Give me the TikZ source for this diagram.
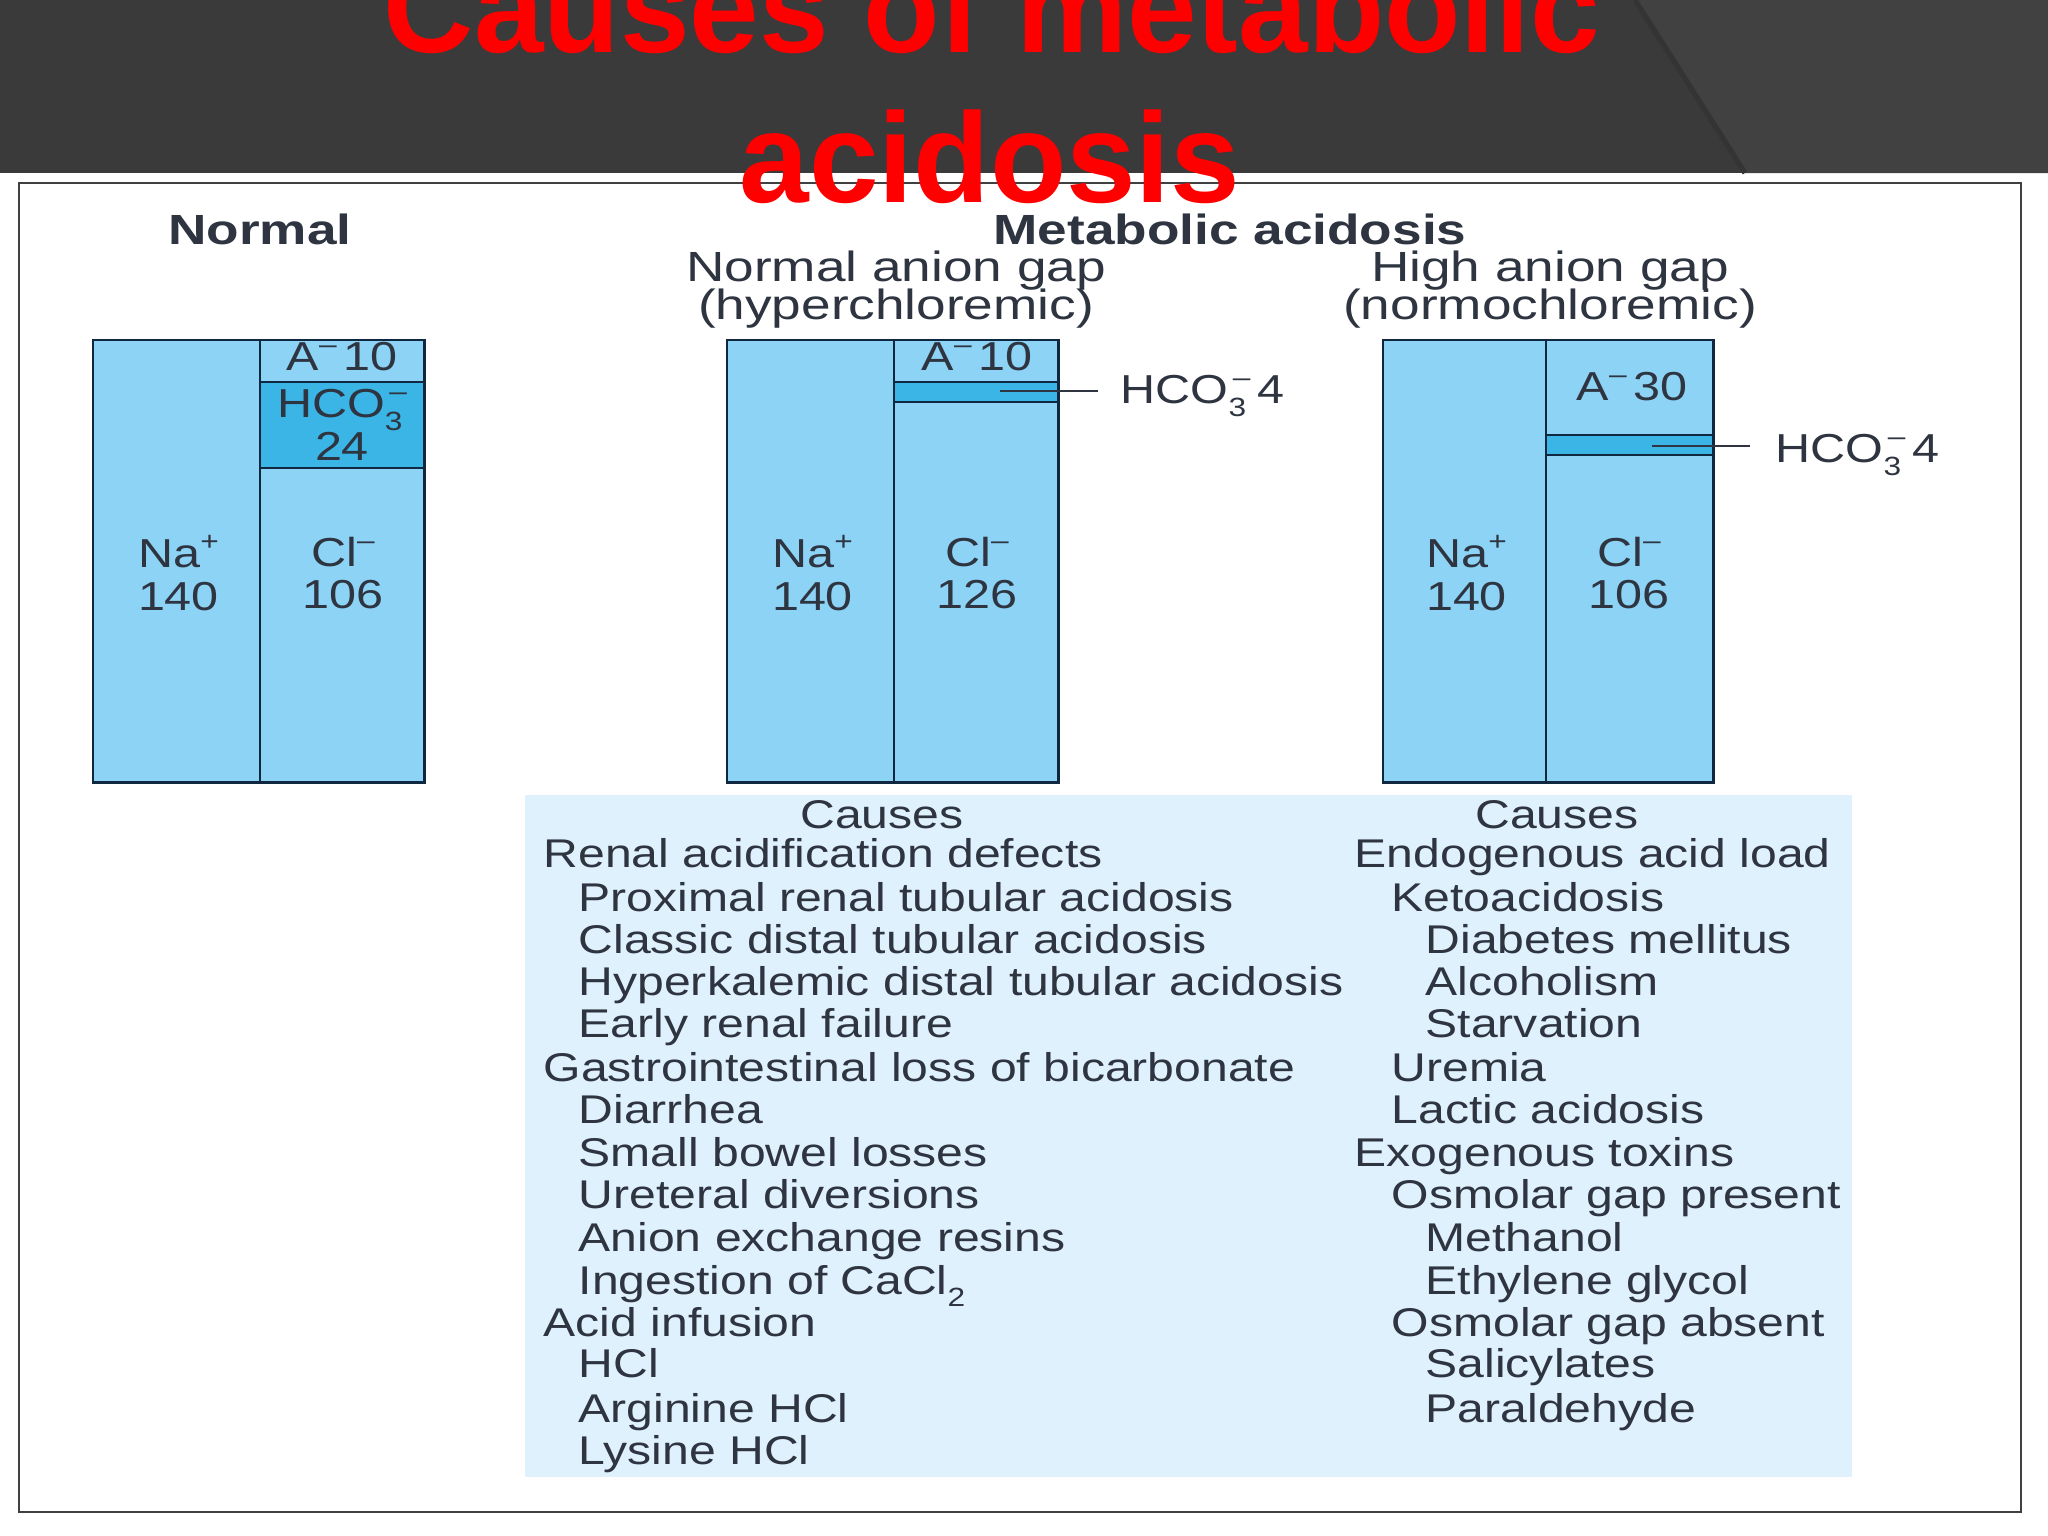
\documentclass[tikz,border=0pt]{standalone}
\usepackage{fontspec}
\setmainfont{Liberation Sans}[FakeStretch=1.2]
\newfontfamily\wideface{Liberation Sans}[FakeStretch=1.26]
\newfontfamily\titlefont{Liberation Sans}[FakeStretch=0.977]
\usetikzlibrary{positioning}
\definecolor{band}{HTML}{3A3A3A}
\definecolor{band light}{HTML}{414141}
\definecolor{band edge}{HTML}{343434}
\definecolor{bar light}{HTML}{8CD3F6}
\definecolor{bar dark}{HTML}{3BB5E6}
\definecolor{bar line}{HTML}{10283F}
\definecolor{causes back}{HTML}{DFF1FC}
\definecolor{ink}{HTML}{2E3440}
\newcommand{\upmark}[1]{\raisebox{0.42em}{\fontsize{7.5}{8}\selectfont #1}}
\newcommand{\downmark}[1]{\raisebox{-0.32em}{\fontsize{7.5}{8}\selectfont #1}}
\newcommand{\hco}{HCO\rlap{\downmark{3}}\upmark{\,–}}
\newcommand{\anion}{A\upmark{–}}
\newcommand{\tightlines}{\lineskiplimit=-10pt\relax}
\tikzset{
  column/.style={draw=bar line, line width=0.8pt, fill=bar light, anchor=north west, inner sep=0, outer sep=0, minimum height=4.42cm},
  gap/.style={draw=bar line, line width=0.8pt, fill=bar dark},
  ion/.style={text=ink, align=center, inner sep=0, font=\fontsize{11.5}{12.2}\selectfont},
  head/.style={text=ink, align=center, inner sep=0, font=\fontsize{12}{10.8}\wideface\selectfont, execute at begin node=\tightlines},
  causes head/.style={text=ink, inner sep=0, font=\fontsize{11.4}{13}\selectfont},
  main head/.style={text=ink, inner sep=0, font=\fontsize{12}{13}\wideface\bfseries\selectfont},
  cause/.style={text=ink, anchor=base west, inner sep=0, font=\fontsize{11.4}{13}\selectfont},
  leader/.style={draw=ink, line width=0.8pt},
  slide title/.style={text=red, anchor=base, inner sep=0, font=\fontsize{36.4}{40}\titlefont\bfseries\selectfont}
}
\tikzset{
  pics/anionbar/.style args={#1/#2/#3/#4/#5/#6}{
    code = {
      \node[column, minimum width=#6*0.01cm] at (0,0) (#1 na) {};
      \node[column, minimum width=#5] at (#6,0) (#1 cl) {};
      \draw[gap] (#6,#3) rectangle ++(#5,#4);
      \node[ion] at ({#6/2+2},233) (#1 na label) {Na\upmark{+}\\140};
      \node[ion] at ({#6+83},233) (#1 cl label) {Cl\upmark{–}\\#2};
    }
  }
}
\begin{document}
\begin{tikzpicture}[x=0.01cm,y=-0.01cm]
  \useasboundingbox (0,0) rectangle (2048,1536);
  \fill[white] (0,0) rectangle (2048,1536);

  % slide header
  \fill[band] (0,0) rectangle (2048,173);
  \fill[band light] (1635,0) -- (2048,0) -- (2048,173) -- (1745,173) -- cycle;
  \draw[band edge, line width=1.5pt] (1635,0) -- (1745,173);

  \draw[draw=black!75, line width=0.7pt] (19,183) rectangle (2021,1512);
  \fill[causes back] (525,795) rectangle (1852,1477);

  \node[main head] at (260,229) (normal head) {Normal};
  \node[main head] at (1230,229) (acidosis head) {Metabolic acidosis};
  \node[head] at (896,290) (normal gap head) {Normal anion gap\\(hyperchloremic)};
  \node[head] at (1550,290) (high gap head) {High anion gap\\(normochloremic)};

  \pic at (93,340) {anionbar=normal/106/42/86/1.64cm/167};
  \pic at (727,340) {anionbar=normalgap/126/42/20/1.64cm/167};
  \pic at (1383,340) {anionbar=highgap/106/95/20/1.67cm/163};

  \node[ion] at (342,357) (normal anion) {\anion\,10};
  \node[ion] at (342,425) (normal hco) {\hco\\24};
  \node[ion] at (977,357) (normalgap anion) {\anion\,10};
  \node[ion] at (1632,387) (highgap anion) {\anion\,30};

  \node[ion, anchor=west] at (1120,396) (normalgap hco) {\hco\,4};
  \node[ion, anchor=west] at (1775,455) (highgap hco) {\hco\,4};
  \coordinate (normalgap tip) at (1000,391);
  \coordinate (highgap tip) at (1652,446);
  \draw[leader] (normalgap tip) -- ++(98,0) coordinate (normalgap end);
  \draw[leader] (highgap tip) -- ++(98,0) coordinate (highgap end);

  % causes, left
  \node[causes head] at (882,815) (left causes) {Causes};
  \node[cause] at (543,867) (renal) {Renal acidification defects};
  \node[cause] at (578,911) (proximal) {Proximal renal tubular acidosis};
  \node[cause] at (578,953) (classic) {Classic distal tubular acidosis};
  \node[cause] at (578,995) (hyperkalemic) {Hyperkalemic distal tubular acidosis};
  \node[cause] at (578,1037) (early) {Early renal failure};
  \node[cause] at (543,1081) (gastro) {Gastrointestinal loss of bicarbonate};
  \node[cause] at (578,1123) (diarrhea) {Diarrhea};
  \node[cause] at (578,1166) (bowel) {Small bowel losses};
  \node[cause] at (578,1208) (ureteral) {Ureteral diversions};
  \node[cause] at (578,1251) (resins) {Anion exchange resins};
  \node[cause] at (578,1294) (ingestion) {Ingestion of CaCl\downmark{2}};
  \node[cause] at (543,1336) (infusion) {Acid infusion};
  \node[cause] at (578,1377) (hcl) {HCl};
  \node[cause] at (578,1422) (arginine) {Arginine HCl};
  \node[cause] at (578,1464) (lysine) {Lysine HCl};

  % causes, right
  \node[causes head] at (1557,815) (right causes) {Causes};
  \node[cause] at (1354,867) (endogenous) {Endogenous acid load};
  \node[cause] at (1391,911) (keto) {Ketoacidosis};
  \node[cause] at (1425,953) (diabetes) {Diabetes mellitus};
  \node[cause] at (1425,995) (alcoholism) {Alcoholism};
  \node[cause] at (1425,1037) (starvation) {Starvation};
  \node[cause] at (1391,1081) (uremia) {Uremia};
  \node[cause] at (1391,1123) (lactic) {Lactic acidosis};
  \node[cause] at (1354,1166) (exogenous) {Exogenous toxins};
  \node[cause] at (1391,1208) (gap present) {Osmolar gap present};
  \node[cause] at (1425,1251) (methanol) {Methanol};
  \node[cause] at (1425,1294) (glycol) {Ethylene glycol};
  \node[cause] at (1391,1336) (gap absent) {Osmolar gap absent};
  \node[cause] at (1425,1377) (salicylates) {Salicylates};
  \node[cause] at (1425,1422) (paraldehyde) {Paraldehyde};

  \node[slide title] at (992,52) (title one) {Causes of metabolic};
  \node[slide title] at (990,202) (title two) {acidosis};
\end{tikzpicture}
\end{document}
